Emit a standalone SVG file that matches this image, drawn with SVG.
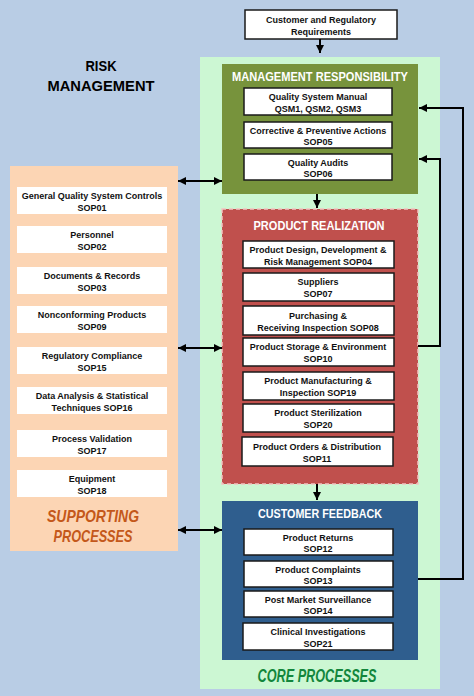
<svg xmlns="http://www.w3.org/2000/svg" width="474" height="696" viewBox="0 0 474 696">
<defs>
<style>
.t{font-family:"Liberation Sans",Arial,sans-serif;font-weight:bold;font-size:9px;fill:#111;text-anchor:middle}
.ttl{font-family:"Liberation Sans",Arial,sans-serif;font-weight:bold;font-size:13px;fill:#fff;text-anchor:middle}
.big{font-family:"Liberation Sans",Arial,sans-serif;font-weight:bold;text-anchor:middle}
.ib{fill:#fff;stroke:#1a1a1a;stroke-width:1.5}
.sb{fill:#fff}
.c{fill:none;stroke:#000;stroke-width:2}
</style>
<marker id="ah" viewBox="0 0 10 10" refX="10" refY="5" markerWidth="8" markerHeight="8" markerUnits="userSpaceOnUse" orient="auto-start-reverse">
<path d="M0,0 L10,5 L0,10 z" fill="#000"/>
</marker>
</defs>
<rect x="0" y="0" width="474" height="696" fill="#b9cde5"/>

<g id="risk-management">
<text class="big" x="101" y="71" font-size="15" textLength="31" lengthAdjust="spacingAndGlyphs">RISK</text>
<text class="big" x="101" y="91" font-size="15" textLength="107" lengthAdjust="spacingAndGlyphs">MANAGEMENT</text>
</g>

<g id="customer-regulatory">
<rect x="245" y="10" width="152" height="29" fill="#fff" stroke="#1a1a1a" stroke-width="1.5"/>
<text class="t" x="321" y="23">Customer and Regulatory</text>
<text class="t" x="321" y="35">Requirements</text>
</g>

<g id="core-processes">
<rect x="200" y="57" width="240" height="632" fill="#ccf7d3"/>
<text class="big" x="317" y="682" font-size="18" font-style="italic" fill="#12863c" textLength="119" lengthAdjust="spacingAndGlyphs">CORE PROCESSES</text>
</g>

<g id="supporting-processes">
<rect x="10" y="166" width="168" height="385" fill="#fcd5b4"/>
<text class="big" x="93" y="522" font-size="17" font-style="italic" fill="#c4581a" textLength="92" lengthAdjust="spacingAndGlyphs">SUPPORTING</text>
<text class="big" x="93" y="542" font-size="17" font-style="italic" fill="#c4581a" textLength="79" lengthAdjust="spacingAndGlyphs">PROCESSES</text>
</g>

<g id="sop01"><rect class="sb" x="17" y="187" width="150" height="27"/><text class="t" x="92" y="198.5">General Quality System Controls</text><text class="t" x="92" y="210.5">SOP01</text></g>
<g id="sop02"><rect class="sb" x="17" y="226" width="150" height="27"/><text class="t" x="92" y="237.5">Personnel</text><text class="t" x="92" y="249.5">SOP02</text></g>
<g id="sop03"><rect class="sb" x="17" y="267" width="150" height="27"/><text class="t" x="92" y="278.5">Documents &amp; Records</text><text class="t" x="92" y="290.5">SOP03</text></g>
<g id="sop09"><rect class="sb" x="17" y="306" width="150" height="27"/><text class="t" x="92" y="317.5">Nonconforming Products</text><text class="t" x="92" y="329.5">SOP09</text></g>
<g id="sop15"><rect class="sb" x="17" y="347" width="150" height="27"/><text class="t" x="92" y="358.5">Regulatory Compliance</text><text class="t" x="92" y="370.5">SOP15</text></g>
<g id="sop16"><rect class="sb" x="17" y="387" width="150" height="27"/><text class="t" x="92" y="398.5">Data Analysis &amp; Statistical</text><text class="t" x="92" y="410.5">Techniques SOP16</text></g>
<g id="sop17"><rect class="sb" x="17" y="430" width="150" height="27"/><text class="t" x="92" y="441.5">Process Validation</text><text class="t" x="92" y="453.5">SOP17</text></g>
<g id="sop18"><rect class="sb" x="17" y="470" width="150" height="27"/><text class="t" x="92" y="481.5">Equipment</text><text class="t" x="92" y="493.5">SOP18</text></g>

<g id="management-responsibility">
<rect x="222" y="64" width="196" height="130" fill="#77933c"/>
<text class="ttl" x="320" y="81" textLength="176" lengthAdjust="spacingAndGlyphs">MANAGEMENT RESPONSIBILITY</text>
</g>
<g id="qsm"><rect class="ib" x="244" y="88" width="148" height="27"/><text class="t" x="318" y="100">Quality System Manual</text><text class="t" x="318" y="112">QSM1, QSM2, QSM3</text></g>
<g id="sop05"><rect class="ib" x="244" y="122" width="148" height="26"/><text class="t" x="318" y="133.5">Corrective &amp; Preventive Actions</text><text class="t" x="318" y="145">SOP05</text></g>
<g id="sop06"><rect class="ib" x="244" y="154" width="148" height="26"/><text class="t" x="318" y="165.5">Quality Audits</text><text class="t" x="318" y="177">SOP06</text></g>

<g id="product-realization">
<rect x="222" y="209" width="196" height="275" fill="#c0504d" stroke="#f2c4c2" stroke-width="1.5" stroke-dasharray="4 3"/>
<text class="ttl" x="319" y="230" textLength="131" lengthAdjust="spacingAndGlyphs">PRODUCT REALIZATION</text>
</g>
<g id="sop04"><rect class="ib" x="243" y="241" width="151" height="27"/><text class="t" x="318" y="252.5">Product Design, Development &amp;</text><text class="t" x="318" y="264.5">Risk Management SOP04</text></g>
<g id="sop07"><rect class="ib" x="243" y="273" width="151" height="28"/><text class="t" x="318" y="285">Suppliers</text><text class="t" x="318" y="297">SOP07</text></g>
<g id="sop08"><rect class="ib" x="243" y="306" width="151" height="29"/><text class="t" x="318" y="318.5">Purchasing &amp;</text><text class="t" x="318" y="330.5">Receiving Inspection SOP08</text></g>
<g id="sop10"><rect class="ib" x="243" y="338" width="151" height="28"/><text class="t" x="318" y="350">Product Storage &amp; Environment</text><text class="t" x="318" y="362">SOP10</text></g>
<g id="sop19"><rect class="ib" x="243" y="372" width="151" height="28"/><text class="t" x="318" y="384">Product Manufacturing &amp;</text><text class="t" x="318" y="396">Inspection SOP19</text></g>
<g id="sop20"><rect class="ib" x="243" y="404" width="151" height="28"/><text class="t" x="318" y="416">Product Sterilization</text><text class="t" x="318" y="428">SOP20</text></g>
<g id="sop11"><rect class="ib" x="242" y="437" width="151" height="29"/><text class="t" x="317" y="449.5">Product Orders &amp; Distribution</text><text class="t" x="317" y="461.5">SOP11</text></g>

<g id="customer-feedback">
<rect x="222" y="501" width="196" height="159" fill="#2f5e8e"/>
<text class="ttl" x="320" y="518" textLength="124" lengthAdjust="spacingAndGlyphs">CUSTOMER FEEDBACK</text>
</g>
<g id="sop12"><rect class="ib" x="244" y="529" width="149" height="26"/><text class="t" x="318" y="540.5">Product Returns</text><text class="t" x="318" y="552">SOP12</text></g>
<g id="sop13"><rect class="ib" x="244" y="561" width="149" height="26"/><text class="t" x="318" y="572.5">Product Complaints</text><text class="t" x="318" y="584">SOP13</text></g>
<g id="sop14"><rect class="ib" x="244" y="591" width="149" height="26"/><text class="t" x="318" y="602.5">Post Market Surveillance</text><text class="t" x="318" y="614">SOP14</text></g>
<g id="sop21"><rect class="ib" x="243" y="623" width="150" height="27"/><text class="t" x="318" y="634.5">Clinical Investigations</text><text class="t" x="318" y="646.5">SOP21</text></g>

<g id="connectors">
<line class="c" x1="320" y1="39" x2="320" y2="53" marker-end="url(#ah)"/>
<line class="c" x1="317" y1="194" x2="317" y2="208" marker-end="url(#ah)"/>
<line class="c" x1="317" y1="484" x2="317" y2="500" marker-end="url(#ah)"/>
<line class="c" x1="178" y1="181" x2="222" y2="181" marker-start="url(#ah)" marker-end="url(#ah)"/>
<line class="c" x1="178" y1="348" x2="222" y2="348" marker-start="url(#ah)" marker-end="url(#ah)"/>
<line class="c" x1="178" y1="530" x2="222" y2="530" marker-start="url(#ah)" marker-end="url(#ah)"/>
<polyline class="c" points="418,579 463,579 463,108 419,108" marker-end="url(#ah)"/>
<polyline class="c" points="418,346 440,346 440,159 419,159" marker-end="url(#ah)"/>
</g>
</svg>
